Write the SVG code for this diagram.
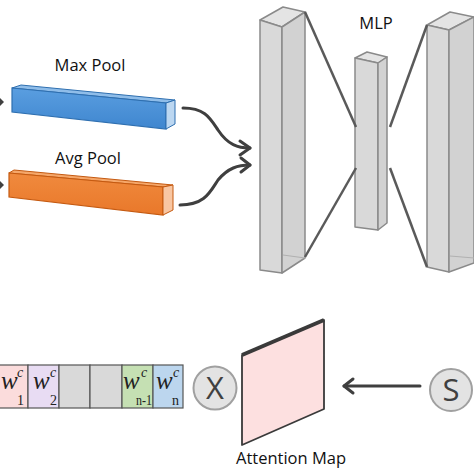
<svg xmlns="http://www.w3.org/2000/svg" width="474" height="474" viewBox="0 0 474 474">
<style>
.lbl{font-family:"Open Sans","Noto Sans",sans-serif;font-size:16.5px;fill:#111;text-anchor:middle}
.box{fill:#d9d9d9;stroke:#8a8a8a;stroke-width:1.5;stroke-linejoin:round}
.side{fill:#d2d2d2;stroke:#8a8a8a;stroke-width:1.5;stroke-linejoin:round}
.top{fill:#e4e4e4;stroke:#8a8a8a;stroke-width:1.5;stroke-linejoin:round}
.conn{stroke:#5a5a5a;stroke-width:2.5;fill:none}
.arr{stroke:#3f3f3f;stroke-width:3;fill:none;stroke-linecap:round;stroke-linejoin:round}
.w{font-family:"Liberation Serif",serif;font-style:italic;font-size:25px;fill:#222}
.sup{font-family:"Liberation Serif",serif;font-style:italic;font-size:14px;fill:#222}
.sub{font-family:"Liberation Serif",serif;font-size:14px;fill:#222}
.cell{stroke:#555;stroke-width:1.2}
.circ{fill:#e3e3e3;stroke:#a0a0a0;stroke-width:2}
.cl{font-family:"Open Sans","Noto Sans",sans-serif;font-size:31px;fill:#404040;text-anchor:middle}
</style>
<defs>
<linearGradient id="gb" x1="0" y1="0" x2="0" y2="1"><stop offset="0" stop-color="#5a9ee0"/><stop offset="1" stop-color="#3f86cf"/></linearGradient>
<linearGradient id="go" x1="0" y1="0" x2="0" y2="1"><stop offset="0" stop-color="#f08a3e"/><stop offset="1" stop-color="#e9782a"/></linearGradient>
</defs>

<g id="maxpool">
<polygon points="0,98 4,102 0,106" fill="#404040"/>
<polygon points="12,88 21,85 175,100 166,103" fill="#8fbde9" stroke="#2e6fb0" stroke-width="1"/>
<polygon points="12,88 166,103 166,129 12,112" fill="url(#gb)" stroke="#2e6fb0" stroke-width="1.2"/>
<polygon points="166,103 175,100 175,124 166,129" fill="#bcd7f1" stroke="#2e6fb0" stroke-width="1"/>
<text class="lbl" x="90" y="71">Max Pool</text>
</g>

<g id="avgpool">
<polygon points="0,181 4,185 0,189" fill="#404040"/>
<polygon points="9,173 14,170 173,185 163,187" fill="#f5a76a" stroke="#c55a11" stroke-width="1"/>
<polygon points="9,173 163,187 163,215 9,197" fill="url(#go)" stroke="#c55a11" stroke-width="1.2"/>
<polygon points="163,187 173,185 173,210 163,215" fill="#f8c6a2" stroke="#c55a11" stroke-width="1"/>
<text class="lbl" x="88" y="164">Avg Pool</text>
</g>

<g id="mlp">
<g id="mlp-left">
<polygon class="top" points="260,20 283,7 305,12 282,27"/>
<polygon class="box" points="260,20 282,27 282,273 260,270"/>
<polygon class="side" points="282,27 305,12 305,258 282,273"/>
<line x1="283" y1="255" x2="305" y2="258" stroke="#b0b0b0" stroke-width="1"/>
</g>
<g id="mlp-mid">
<polygon class="top" points="355,58 367,52 387,57 378,63"/>
<polygon class="box" points="355,58 378,63 378,230 355,227"/>
<polygon class="side" points="378,63 387,57 387,223 378,230"/>
</g>
<g id="mlp-right">
<polygon class="top" points="427,25 450,12 474,17 449,30"/>
<polygon class="box" points="427,25 449,30 449,272 427,267"/>
<polygon class="side" points="449,30 474,17 474,263 449,272"/>
<line x1="450" y1="256" x2="474" y2="258" stroke="#b0b0b0" stroke-width="1"/>
</g>
<text class="lbl" x="376" y="29">MLP</text>
</g>

<g id="weights">
<rect class="cell" x="-3" y="365" width="31" height="43" fill="#fbdcdc"/>
<rect class="cell" x="28" y="365" width="31" height="43" fill="#e8dcf3"/>
<rect class="cell" x="59" y="365" width="31" height="43" fill="#d9d9d9"/>
<rect class="cell" x="90" y="365" width="32" height="43" fill="#d9d9d9"/>
<rect class="cell" x="122" y="365" width="31" height="43" fill="#c5e0b3"/>
<rect class="cell" x="153" y="365" width="30" height="43" fill="#bcd6ee"/>
<text class="w" x="1" y="389">w</text><text class="sup" x="17" y="377">c</text><text class="sub" x="17" y="405">1</text>
<text class="w" x="33" y="389">w</text><text class="sup" x="50" y="377">c</text><text class="sub" x="50" y="405">2</text>
<text class="w" x="123" y="389">w</text><text class="sup" x="141" y="377">c</text><text class="sub" x="136" y="405" textLength="16" lengthAdjust="spacingAndGlyphs">n-1</text>
<text class="w" x="156" y="389">w</text><text class="sup" x="173" y="377">c</text><text class="sub" x="172" y="405">n</text>
</g>

<g id="mult">
<circle class="circ" cx="215" cy="388" r="21.5"/>
<text class="cl" x="215" y="399">X</text>
</g>

<g id="attention">
<polygon points="242,355 324,320 324,409 242,445" fill="#fde0e0" stroke="#3a3a3a" stroke-width="1.8" stroke-linejoin="round"/>
<line x1="242" y1="355" x2="324" y2="320" stroke="#3a3a3a" stroke-width="4"/>
<text class="lbl" x="291" y="464">Attention Map</text>
</g>

<g id="sigmoid">
<circle class="circ" cx="451" cy="390" r="21"/>
<text class="cl" x="451" y="401">S</text>
</g>

<g id="connectors">
<line class="conn" x1="305" y1="12" x2="356" y2="127"/>
<line class="conn" x1="305" y1="257" x2="356" y2="168"/>
<line class="conn" x1="390" y1="127" x2="427" y2="25"/>
<line class="conn" x1="390" y1="168" x2="427" y2="267"/>
<path class="arr" d="M183,108 C205,108 210,118 218,130 C228,145 238,148 250,148"/>
<path class="arr" d="M240,141 L250,148 L240,155"/>
<path class="arr" d="M180,205 C205,205 210,192 218,180 C228,168 238,165 250,165"/>
<path class="arr" d="M241,158 L250,165 L241,172"/>
<line class="arr" x1="420" y1="386" x2="344" y2="386" stroke-width="2.5"/>
<path class="arr" d="M353,379 L344,386 L353,393" stroke-width="2.5"/>
</g>
</svg>
